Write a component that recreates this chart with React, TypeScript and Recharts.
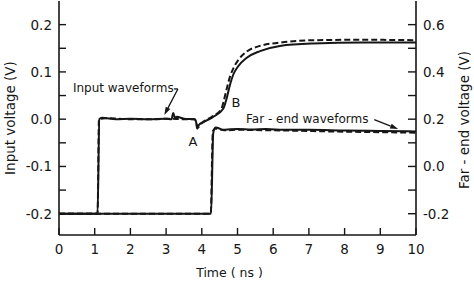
import React from 'react';
import { LineChart, Line, XAxis, YAxis, ReferenceDot, ReferenceLine } from 'recharts';

// input waveform, solid (left axis, V)
const inputSolidTime = [0, 1.08, 1.13, 1.2, 1.6, 2.0, 2.5, 3.0, 3.15, 3.2, 3.25, 3.3, 3.5, 3.8, 3.84, 3.87, 3.92, 4.05, 4.3, 4.6, 4.7, 4.79, 4.88, 5.02, 5.26, 5.63, 6.19, 7.12, 8.5, 10];
const inputSolidVolt = [-0.2, -0.2, 0.0, 0.003, 0.0, 0.001, 0.0, 0.001, 0.0, 0.013, 0.003, 0.005, 0.001, 0.0, -0.006, -0.02, -0.012, -0.006, 0.004, 0.022, 0.045, 0.073, 0.094, 0.112, 0.13, 0.144, 0.155, 0.16, 0.162, 0.162];

// input waveform, dashed
const inputDashTime = [0, 1.08, 1.12, 1.3, 2.0, 2.6, 3.1, 3.5, 3.8, 3.85, 3.88, 4.0, 4.3, 4.55, 4.62, 4.7, 4.79, 4.9, 5.02, 5.26, 5.63, 6.19, 7.12, 8.5, 10];
const inputDashVolt = [-0.2, -0.2, 0.0, 0.002, 0.0, 0.0, 0.001, 0.0, 0.0, -0.008, -0.018, -0.008, 0.006, 0.022, 0.04, 0.065, 0.09, 0.11, 0.125, 0.143, 0.155, 0.162, 0.167, 0.168, 0.167];

// far-end waveforms (right axis, V)
const farSolidTime = [0, 4.26, 4.32, 4.38, 4.45, 4.6, 4.8, 5.0, 5.4, 5.8, 6.3, 7.0, 8.0, 9.0, 10];
const farSolidVolt = [-0.2, -0.2, 0.14, 0.165, 0.163, 0.155, 0.157, 0.158, 0.156, 0.158, 0.155, 0.155, 0.152, 0.15, 0.148];
const farDashTime = [0, 4.25, 4.31, 4.38, 4.5, 4.7, 5.0, 5.5, 6.0, 7.0, 8.0, 9.0, 10];
const farDashVolt = [-0.2, -0.2, 0.15, 0.16, 0.157, 0.153, 0.155, 0.154, 0.153, 0.15, 0.147, 0.145, 0.143];

const timeTicks = [0, 1, 2, 3, 4, 5, 6, 7, 8, 9, 10];
const leftTicks = [-0.2, -0.15, -0.1, -0.05, 0, 0.05, 0.1, 0.15, 0.2];
const rightTicks = [-0.2, -0.1, 0, 0.1, 0.2, 0.3, 0.4, 0.5, 0.6];

const zip = (ts: number[], vs: number[]) => ts.map((t, i) => ({ t, v: vs[i] }));

const INK = '#161616';
const FONT = "'DejaVu Sans', sans-serif";

const LeftTick = ({ x, y, payload }: any) => {
  const v = payload.value;
  const major = Math.abs(v * 10 - Math.round(v * 10)) < 1e-6;
  const edge = x + 7;
  return (
    <g>
      <line x1={edge} x2={edge + 7} y1={y} y2={y} stroke={INK} strokeWidth={1.4} />
      {major && (
        <text x={x} y={y} dy={5} textAnchor="end" fontSize={13.5} fill={INK} fontFamily={FONT}>
          {v.toFixed(1)}
        </text>
      )}
    </g>
  );
};

const RightTick = ({ x, y, payload }: any) => {
  const v = payload.value;
  const major = Math.round(v * 10) % 2 === 0;
  const edge = x - 7;
  return (
    <g>
      <line x1={edge} x2={edge - 8} y1={y} y2={y} stroke={INK} strokeWidth={1.4} />
      {major && (
        <text x={x} y={y} dy={5} textAnchor="start" fontSize={13.5} fill={INK} fontFamily={FONT}>
          {v.toFixed(1)}
        </text>
      )}
    </g>
  );
};

const BottomTick = ({ x, y, payload }: any) => (
  <g>
    <line x1={x} x2={x} y1={y} y2={y - 7} stroke={INK} strokeWidth={1.4} />
    <text x={x} y={y} dy={19} textAnchor="middle" fontSize={13.5} fill={INK} fontFamily={FONT}>
      {payload.value}
    </text>
  </g>
);

const TopTick = ({ x, y }: any) => (
  <line x1={x} x2={x} y1={y} y2={y + 8} stroke={INK} strokeWidth={1.4} />
);

const Arrow = ({ x1, y1, x2, y2, head }: any) => {
  const a = Math.atan2(y2 - y1, x2 - x1);
  const len = 8;
  const w = 2.6;
  const bx = x2 - len * Math.cos(a);
  const by = y2 - len * Math.sin(a);
  const px = -Math.sin(a) * w;
  const py = Math.cos(a) * w;
  return (
    <g>
      <line x1={x1} y1={y1} x2={head ? bx : x2} y2={head ? by : y2} stroke={INK} strokeWidth={1.3} />
      {head && (
        <polygon points={`${x2},${y2} ${bx + px},${by + py} ${bx - px},${by - py}`} fill={INK} />
      )}
    </g>
  );
};

const annotation = (value: string, position: any, size = 12) => ({
  value,
  position,
  offset: 0,
  fill: INK,
  fontSize: size,
  fontFamily: FONT,
});

export default function App() {
  return (
    <div style={{ width: 474, height: 281, fontFamily: FONT, background: '#fff' }}>
      <style>{'body{margin:0}'}</style>
      <LineChart width={474} height={281} margin={{ top: 1, right: 0, bottom: 0, left: 0 }}>
        <XAxis
          dataKey="t"
          type="number"
          domain={[0, 10]}
          allowDataOverflow
          ticks={timeTicks}
          height={46}
          tickSize={0}
          tickMargin={0}
          tickLine={false}
          axisLine={{ stroke: INK, strokeWidth: 1.6 }}
          tick={<BottomTick />}
          interval={0}
          label={{
            content: ({ viewBox }: any) => (
              <text x={viewBox.x + viewBox.width / 2 - 8} y={viewBox.y + 42} textAnchor="middle" fontSize={12.5} fill={INK} fontFamily={FONT}>
                Time ( ns )
              </text>
            ),
          }}
        />
        <XAxis
          xAxisId="top"
          orientation="top"
          dataKey="t"
          type="number"
          domain={[0, 10]}
          allowDataOverflow
          ticks={timeTicks}
          height={0}
          tickSize={0}
          tickMargin={0}
          tickLine={false}
          axisLine={{ stroke: INK, strokeWidth: 1.6 }}
          tick={<TopTick />}
          interval={0}
        />
        <YAxis
          yAxisId="left"
          type="number"
          domain={[-0.245, 0.25]}
          allowDataOverflow
          ticks={leftTicks}
          width={59}
          tickSize={0}
          tickMargin={7}
          tickLine={false}
          axisLine={{ stroke: INK, strokeWidth: 1.6 }}
          tick={<LeftTick />}
          interval={0}
          label={{
            content: ({ viewBox }: any) => {
              const cx = viewBox.x + 11;
              const cy = viewBox.y + viewBox.height / 2;
              return (
                <text x={cx} y={cy} transform={`rotate(-90 ${cx} ${cy})`} textAnchor="middle" dominantBaseline="middle" fontSize={13.5} fill={INK} fontFamily={FONT}>
                  Input voltage (V)
                </text>
              );
            },
          }}
        />
        <YAxis
          yAxisId="right"
          orientation="right"
          type="number"
          domain={[-0.29, 0.7]}
          allowDataOverflow
          ticks={rightTicks}
          width={58}
          tickSize={0}
          tickMargin={7}
          tickLine={false}
          axisLine={{ stroke: INK, strokeWidth: 1.6 }}
          tick={<RightTick />}
          interval={0}
          label={{
            content: ({ viewBox }: any) => {
              const cx = viewBox.x + 49;
              const cy = viewBox.y + viewBox.height / 2 + 2;
              return (
                <text x={cx} y={cy} transform={`rotate(-90 ${cx} ${cy})`} textAnchor="middle" dominantBaseline="middle" fontSize={13.5} fill={INK} fontFamily={FONT}>
                  Far - end voltage (V)
                </text>
              );
            },
          }}
        />

        <Line yAxisId="left" data={zip(inputSolidTime, inputSolidVolt)} dataKey="v" type="monotone" stroke={INK} strokeWidth={2} dot={false} isAnimationActive={false} />
        <Line yAxisId="left" data={zip(inputDashTime, inputDashVolt)} dataKey="v" type="monotone" stroke={INK} strokeWidth={2} strokeDasharray="6 3" dot={false} isAnimationActive={false} />
        <Line yAxisId="right" data={zip(farSolidTime, farSolidVolt)} dataKey="v" type="monotone" stroke={INK} strokeWidth={2} dot={false} isAnimationActive={false} />
        <Line yAxisId="right" data={zip(farDashTime, farDashVolt)} dataKey="v" type="monotone" stroke={INK} strokeWidth={2} strokeDasharray="6 3" dot={false} isAnimationActive={false} />

        <ReferenceDot yAxisId="left" x={0.39} y={0.067} r={0} stroke="none" label={annotation('Input waveforms', 'right')} />
        <ReferenceDot yAxisId="left" x={5.24} y={0.0} r={0} stroke="none" label={annotation('Far - end waveforms', 'right')} />
        <ReferenceDot yAxisId="left" x={3.75} y={-0.047} r={0} stroke="none" label={annotation('A', 'center', 13)} />
        <ReferenceDot yAxisId="left" x={4.96} y={0.035} r={0} stroke="none" label={annotation('B', 'center', 13)} />

        <ReferenceLine yAxisId="left" segment={[{ x: 3.22, y: 0.064 }, { x: 3.33, y: 0.064 }]} shape={(p: any) => <Arrow {...p} />} />
        <ReferenceLine yAxisId="left" segment={[{ x: 3.33, y: 0.064 }, { x: 2.95, y: 0.009 }]} shape={(p: any) => <Arrow {...p} head />} />
        <ReferenceLine yAxisId="left" segment={[{ x: 8.83, y: -0.001 }, { x: 9.5, y: -0.021 }]} shape={(p: any) => <Arrow {...p} head />} />
      </LineChart>
    </div>
  );
}
